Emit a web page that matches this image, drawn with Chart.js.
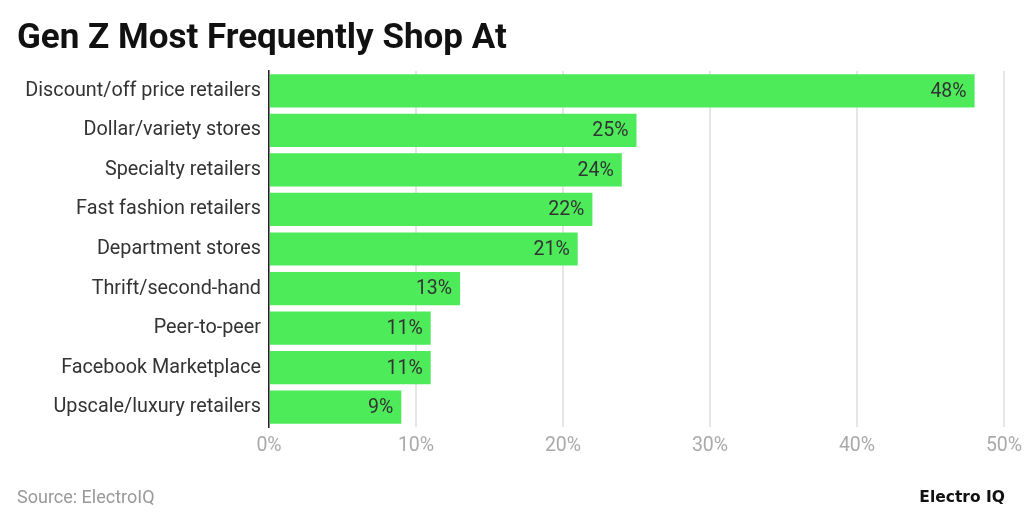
<!DOCTYPE html>
<html>
<head>
<meta charset="utf-8">
<script src="https://cdn.jsdelivr.net/npm/chart.js@4.4.0/dist/chart.umd.min.js"></script>
<style>
  body { margin: 0; background: #fff; }
  #wrap { position: relative; width: 1024px; height: 525px; overflow: hidden; }
  #chart { position: absolute; left: 0; top: 0; }
  .title { position: absolute; left: 17px; top: 19px; font: 700 35px Roboto, sans-serif; line-height: 1; color: #111; white-space: nowrap; }
  .source { position: absolute; left: 17px; top: 488px; font: 400 18px Roboto, sans-serif; line-height: 1; color: #999; }
  .brand { position: absolute; right: 19px; top: 490px; font: 700 15.5px "DejaVu Sans", sans-serif; line-height: 1; color: #111; }
</style>
</head>
<body>
<div id="wrap">
  <canvas id="chart" width="1024" height="525"></canvas>
  <div class="title">Gen Z Most Frequently Shop At</div>
  <div class="source">Source: ElectroIQ</div>
  <div class="brand">Electro IQ</div>
</div>
<script>
const categories = [
    'Discount/off price retailers',
    'Dollar/variety stores',
    'Specialty retailers',
    'Fast fashion retailers',
    'Department stores',
    'Thrift/second-hand',
    'Peer-to-peer',
    'Facebook Marketplace',
    'Upscale/luxury retailers'
];
const shares = [48, 25, 24, 22, 21, 13, 11, 11, 9];
const tickValues = [0, 10, 20, 30, 40, 50];

// value labels drawn at the inner end of each bar
const barLabels = {
    id: 'barLabels',
    afterDatasetsDraw(chart) {
        const c = chart.ctx;
        const meta = chart.getDatasetMeta(0);
        c.save();
        c.font = '19.5px Roboto, sans-serif';
        c.fillStyle = '#333';
        c.textAlign = 'right';
        c.textBaseline = 'middle';
        meta.data.forEach(function(bar, i) {
            c.fillText(shares[i] + '%', bar.x - 8, bar.y + 1);
        });
        c.restore();
    }
};

const ctx = document.getElementById('chart').getContext('2d');
const myChart = new Chart(ctx, {
    type: 'bar',
    data: {
        labels: categories,
        datasets: [{
            data: shares,
            backgroundColor: '#4deb5a',
            borderWidth: 0,
            categoryPercentage: 1,
            barPercentage: 0.84
        }]
    },
    options: {
        indexAxis: 'y',
        responsive: false,
        animation: false,
        layout: {
            padding: { top: 71, right: 20, bottom: 60, left: 0 }
        },
        plugins: {
            legend: { display: false },
            tooltip: { enabled: false }
        },
        scales: {
            x: {
                min: tickValues[0],
                max: tickValues[tickValues.length - 1],
                afterBuildTicks: function(axis) {
                    axis.ticks = tickValues.map(function(v) { return { value: v }; });
                },
                afterFit: function(axis) {
                    axis.height = 38;
                    axis.paddingLeft = 0;
                    axis.paddingRight = 0;
                },
                grid: { color: '#e6e6e6', lineWidth: 2, drawTicks: false },
                border: { display: false },
                ticks: {
                    padding: 7,
                    color: '#aaa',
                    font: { family: 'Roboto', size: 19.5 },
                    callback: function(v) { return v + '%'; }
                }
            },
            y: {
                afterFit: function(axis) { axis.width = 269; },
                grid: { display: false, drawTicks: false },
                border: { display: true, color: '#222', width: 1.5 },
                ticks: {
                    padding: 8,
                    color: '#333',
                    font: { family: 'Roboto', size: 19.8 }
                }
            }
        }
    },
    plugins: [barLabels]
});
</script>
</body>
</html>
